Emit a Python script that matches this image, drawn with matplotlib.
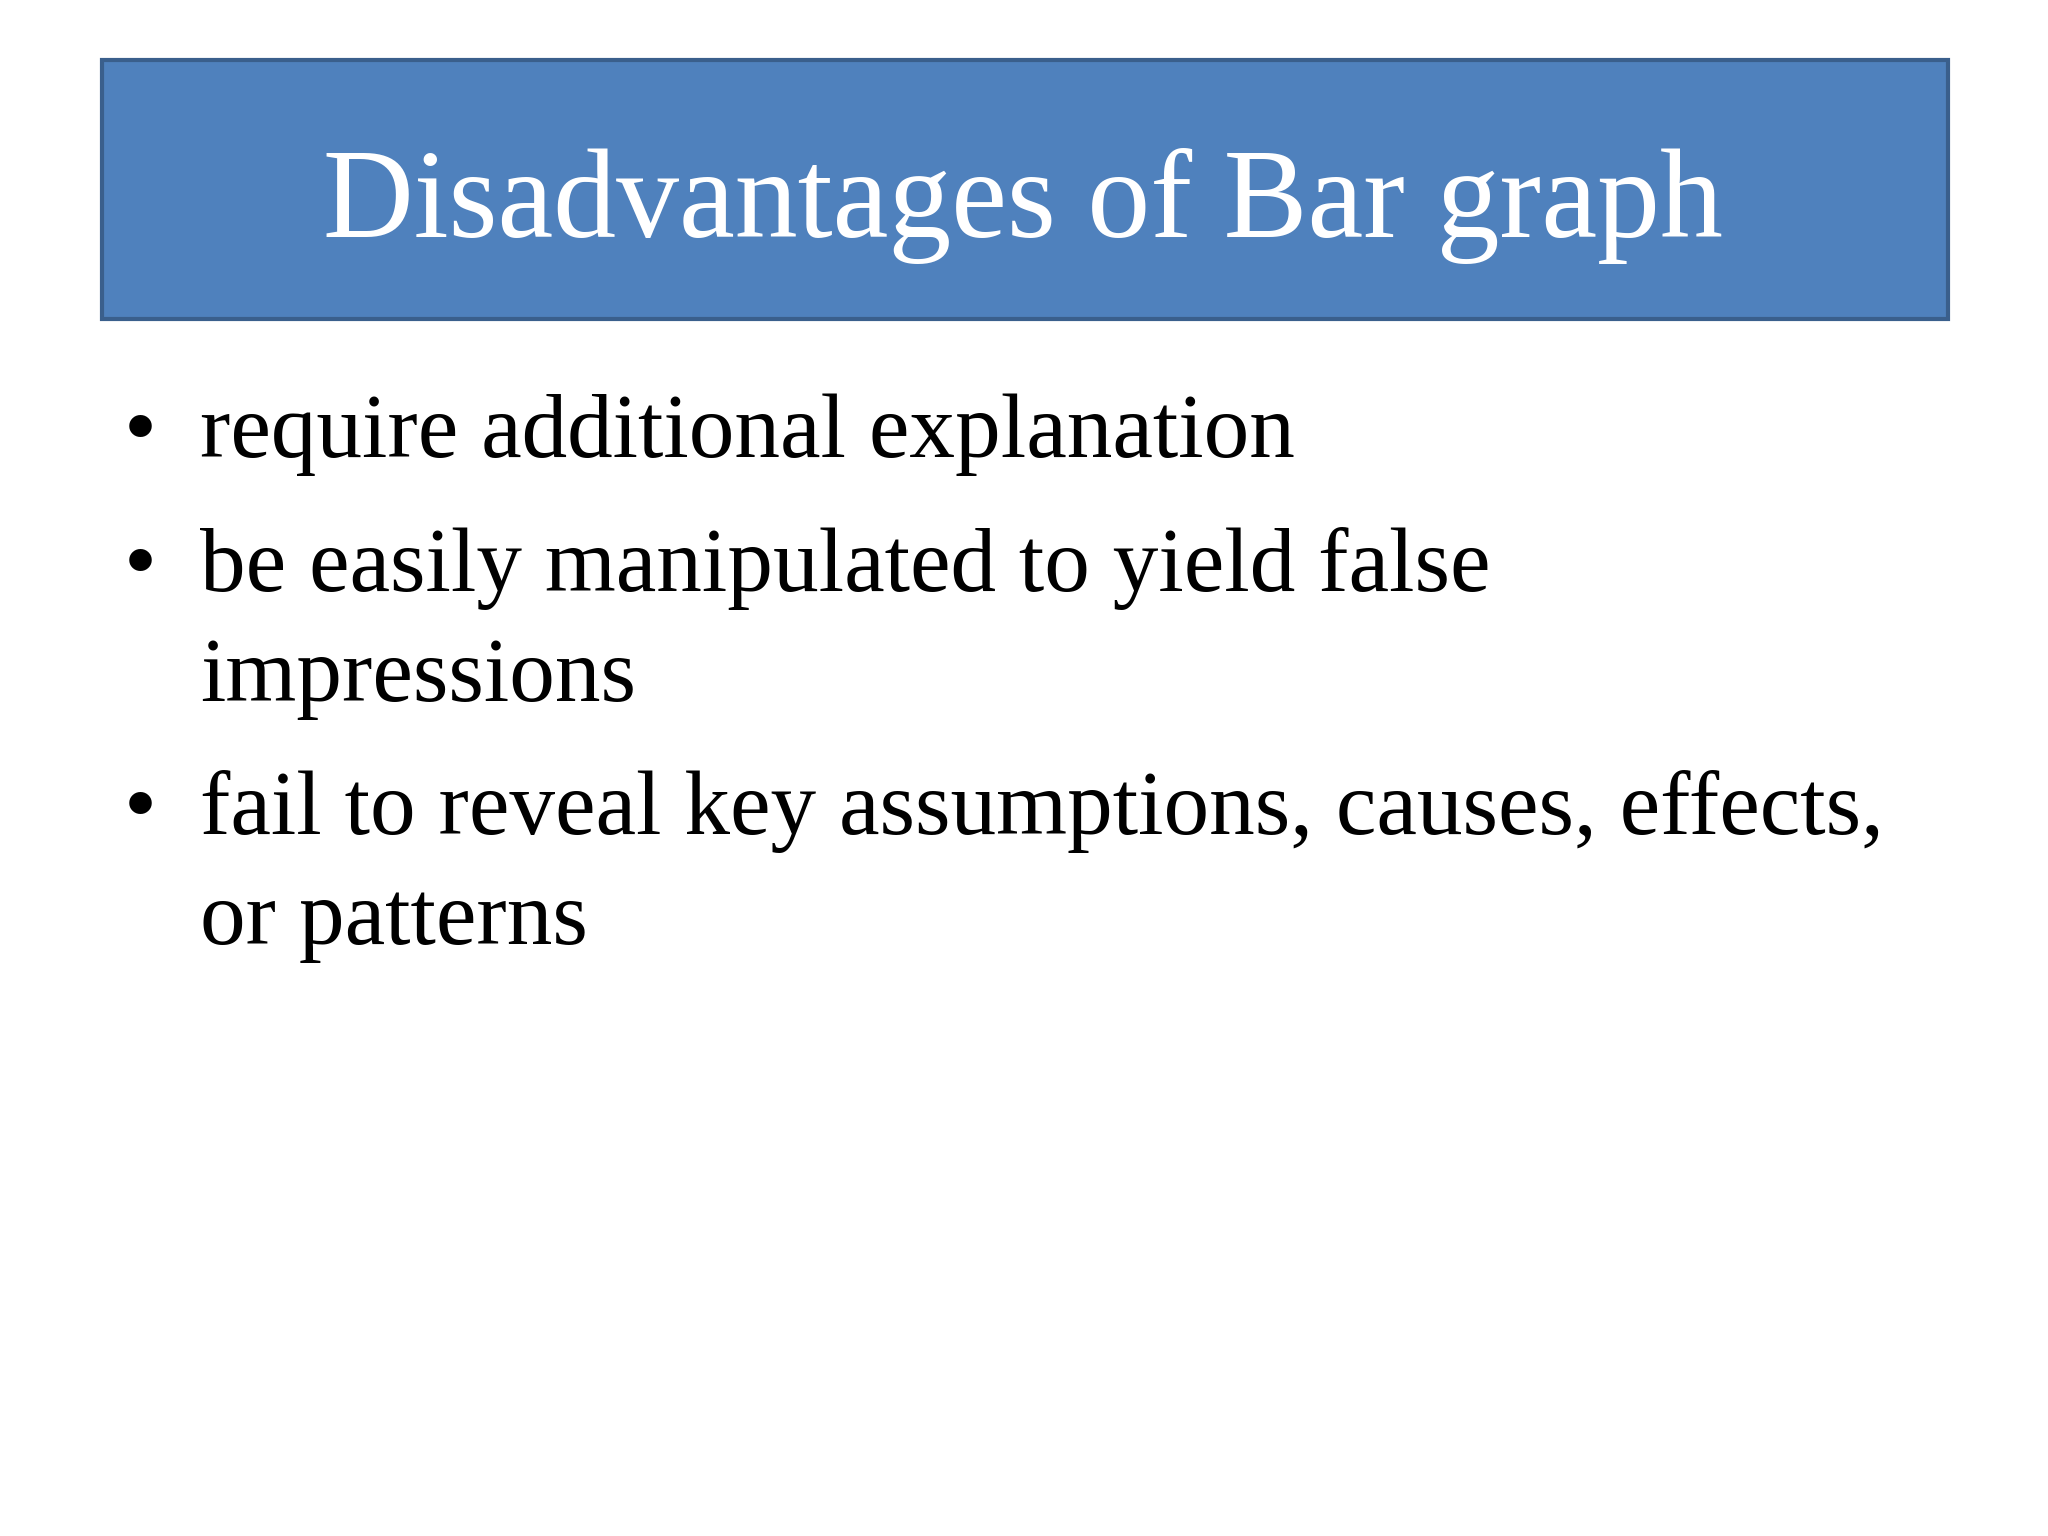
import matplotlib.pyplot as plt
from matplotlib.patches import Rectangle

title = 'Disadvantages of Bar graph'
bullets = [
    ['require additional explanation'],
    ['be easily manipulated to yield false', 'impressions'],
    ['fail to reveal key assumptions, causes, effects,', 'or patterns'],
]

plt.rcParams['font.family'] = ['Liberation Serif', 'DejaVu Serif']

fig = plt.figure(figsize=(20.48, 15.36), dpi=100)
fig.patch.set_facecolor('white')

# title box
box = Rectangle((0.0497, 1 - 0.2075), 0.9013, 0.2075 - 0.039,
                transform=fig.transFigure, facecolor='#4f81bd',
                edgecolor='#3a5f8c', linewidth=3)
fig.patches.append(box)
fig.text(0.4995, 1 - 0.1545, title, color='white', fontsize=90.5,
         ha='center', va='baseline')

# bullet lines
line_gap = 0.0715
y = 1 - 0.2976
for item in bullets:
    fig.text(0.0605, y, '\u2022', fontsize=68, ha='left', va='baseline')
    for line in item:
        fig.text(0.0976, y, line, fontsize=65.7, ha='left', va='baseline')
        y -= line_gap
    y -= 0.0155

fig.savefig('out.png', dpi=100, facecolor='white')
